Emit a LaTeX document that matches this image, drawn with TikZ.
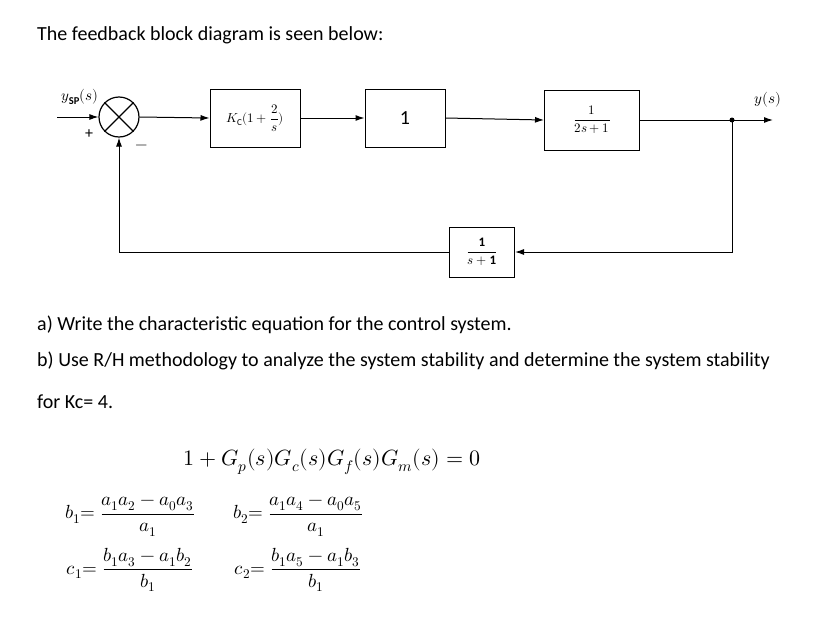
\documentclass[tikz,border=0pt]{standalone}
\usepackage{fontspec}
\setmainfont{Carlito}
\usepackage{unicode-math}
\setmathfont{Latin Modern Math}
\usetikzlibrary{arrows.meta}
\begin{document}
\begin{tikzpicture}[x=1pt,y=-1pt,
  blk/.style={draw,line width=1pt,inner sep=0pt},
  sig/.style={line width=1pt,-{Latex[length=9pt,width=6pt]}},
  txt/.style={anchor=west,font=\fontsize{20}{22}\selectfont,inner sep=0pt}]
\useasboundingbox (0,0) rectangle (834,621);
\node[txt] (t) at (37,35) {The feedback block diagram is seen below:};
\node[draw,circle,line width=1.2pt,minimum size=40pt,inner sep=0pt] (sum) at (119,117) {};
\draw[line width=1.2pt] (sum.north west)--(sum.south east) (sum.north east)--(sum.south west);
\coordinate (in) at (57,117);
\draw[sig] (in) -- (sum.west);
\node (ysp) at (80,97) {\fontsize{15}{15}\selectfont $y_{\mathbf{SP}}(s)$};
\node (plus) at (89,134) {\fontsize{16}{16}\selectfont +};
\node (minus) at (142,147) {\fontsize{16}{16}\selectfont $\boldsymbol{-}$};
\node[blk,minimum width=90pt,minimum height=58pt] (kc) at (255,118) {\fontsize{13}{13}\selectfont $K_{\mathrm C}(1+\dfrac{2}{s})$};
\node[blk,minimum width=80pt,minimum height=58pt] (one) at (405,118) {\fontsize{20}{20}\selectfont 1};
\node[blk,minimum width=95pt,minimum height=60pt] (gp) at (592,120) {\fontsize{13}{15}\selectfont $\dfrac{1}{2s+1}$};
\node[blk,minimum width=65pt,minimum height=50pt] (gm) at (482,252) {\fontsize{13}{15}\selectfont $\dfrac{\mathbf 1}{s+\mathbf 1}$};
\draw[sig] (sum.east) -- (kc.west);
\draw[sig] (kc.east) -- (one.west);
\draw[sig] (one.east) -- (gp.west);
\coordinate (br) at (732,120);
\coordinate (out) at (773,120);
\draw[sig] (gp.east) -- (out);
\fill (br) circle (2.5pt);
\node (ys) at (768,100) {\fontsize{15}{15}\selectfont $y(s)$};
\draw[sig] (br) |- (gm.east);
\draw[sig] (gm.west) -| (sum.south);
\node[txt] (a) at (37,325) {a) Write the characteristic equation for the control system.};
\node[txt] (b) at (37,361) {b) Use R/H methodology to analyze the system stability and determine the system stability};
\node[txt] (c) at (37,402) {for Kc= 4.};
\node (eq) at (332,462) {\fontsize{22}{22}\selectfont $1+G_p(s)G_c(s)G_f(s)G_m(s)=0$};
\node (b1) at (130,517) {\fontsize{19}{19}\selectfont $b_1{=}\;\dfrac{a_1a_2-a_0a_3}{a_1}$};
\node (b2) at (298,517) {\fontsize{19}{19}\selectfont $b_2{=}\;\dfrac{a_1a_4-a_0a_5}{a_1}$};
\node (c1) at (130,570) {\fontsize{19}{19}\selectfont $c_1{=}\;\dfrac{b_1a_3-a_1b_2}{b_1}$};
\node (c2) at (298,570) {\fontsize{19}{19}\selectfont $c_2{=}\;\dfrac{b_1a_5-a_1b_3}{b_1}$};
\end{tikzpicture}
\end{document}
